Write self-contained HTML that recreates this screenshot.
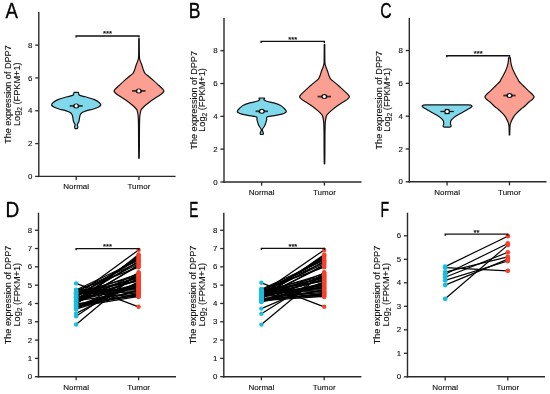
<!DOCTYPE html>
<html><head><meta charset="utf-8"><style>
html,body{margin:0;padding:0;background:#fff;}
body{width:550px;height:394px;overflow:hidden;font-family:"Liberation Sans", sans-serif;}
svg{display:block;filter:blur(0.3px);}
</style></head><body>
<svg width="550" height="394" viewBox="0 0 550 394" font-family='"Liberation Sans", sans-serif'>
<rect width="550" height="394" fill="#fff"/>
<line x1="38.8" y1="12.1" x2="38.8" y2="177.1" stroke="#2a2a2a" stroke-width="1.4"/>
<line x1="38.099999999999994" y1="176.4" x2="175.6" y2="176.4" stroke="#2a2a2a" stroke-width="1.4"/>
<line x1="35.199999999999996" y1="176.40" x2="38.8" y2="176.40" stroke="#2a2a2a" stroke-width="1.3"/>
<text x="32.50" y="179.00" font-size="7.9" text-anchor="end" fill="#111" stroke="#111" stroke-width="0.12">0</text>
<line x1="35.199999999999996" y1="143.58" x2="38.8" y2="143.58" stroke="#2a2a2a" stroke-width="1.3"/>
<text x="32.50" y="146.18" font-size="7.9" text-anchor="end" fill="#111" stroke="#111" stroke-width="0.12">2</text>
<line x1="35.199999999999996" y1="110.76" x2="38.8" y2="110.76" stroke="#2a2a2a" stroke-width="1.3"/>
<text x="32.50" y="113.36" font-size="7.9" text-anchor="end" fill="#111" stroke="#111" stroke-width="0.12">4</text>
<line x1="35.199999999999996" y1="77.94" x2="38.8" y2="77.94" stroke="#2a2a2a" stroke-width="1.3"/>
<text x="32.50" y="80.54" font-size="7.9" text-anchor="end" fill="#111" stroke="#111" stroke-width="0.12">6</text>
<line x1="35.199999999999996" y1="45.12" x2="38.8" y2="45.12" stroke="#2a2a2a" stroke-width="1.3"/>
<text x="32.50" y="47.72" font-size="7.9" text-anchor="end" fill="#111" stroke="#111" stroke-width="0.12">8</text>
<line x1="76.2" y1="176.4" x2="76.2" y2="180.0" stroke="#2a2a2a" stroke-width="1.3"/>
<text x="76.20" y="189.40" font-size="8.0" text-anchor="middle" fill="#111" stroke="#111" stroke-width="0.12">Normal</text>
<line x1="138.9" y1="176.4" x2="138.9" y2="180.0" stroke="#2a2a2a" stroke-width="1.3"/>
<text x="138.90" y="189.40" font-size="8.0" text-anchor="middle" fill="#111" stroke="#111" stroke-width="0.12">Tumor</text>
<text transform="translate(11.30,94.55) rotate(-90)" font-size="9.1" text-anchor="middle" fill="#111" stroke="#111" stroke-width="0.12">The expression of DPP7</text>
<text transform="translate(19.90,94.25) rotate(-90)" font-size="9.2" text-anchor="middle" fill="#111" stroke="#111" stroke-width="0.12">Log<tspan font-size="6.6" dy="2">2</tspan><tspan dy="-2"> (FPKM+1)</tspan></text>
<text transform="translate(5.6,18.2) scale(0.855,1)" font-size="21.7" fill="#000" stroke="#000" stroke-width="0.35">A</text>
<line x1="224.0" y1="18.0" x2="224.0" y2="182.7" stroke="#2a2a2a" stroke-width="1.4"/>
<line x1="223.3" y1="182.0" x2="361.5" y2="182.0" stroke="#2a2a2a" stroke-width="1.4"/>
<line x1="220.4" y1="182.00" x2="224.0" y2="182.00" stroke="#2a2a2a" stroke-width="1.3"/>
<text x="217.70" y="184.60" font-size="7.9" text-anchor="end" fill="#111" stroke="#111" stroke-width="0.12">0</text>
<line x1="220.4" y1="149.18" x2="224.0" y2="149.18" stroke="#2a2a2a" stroke-width="1.3"/>
<text x="217.70" y="151.78" font-size="7.9" text-anchor="end" fill="#111" stroke="#111" stroke-width="0.12">2</text>
<line x1="220.4" y1="116.36" x2="224.0" y2="116.36" stroke="#2a2a2a" stroke-width="1.3"/>
<text x="217.70" y="118.96" font-size="7.9" text-anchor="end" fill="#111" stroke="#111" stroke-width="0.12">4</text>
<line x1="220.4" y1="83.54" x2="224.0" y2="83.54" stroke="#2a2a2a" stroke-width="1.3"/>
<text x="217.70" y="86.14" font-size="7.9" text-anchor="end" fill="#111" stroke="#111" stroke-width="0.12">6</text>
<line x1="220.4" y1="50.72" x2="224.0" y2="50.72" stroke="#2a2a2a" stroke-width="1.3"/>
<text x="217.70" y="53.32" font-size="7.9" text-anchor="end" fill="#111" stroke="#111" stroke-width="0.12">8</text>
<line x1="261.6" y1="182.0" x2="261.6" y2="185.6" stroke="#2a2a2a" stroke-width="1.3"/>
<text x="261.60" y="195.00" font-size="8.0" text-anchor="middle" fill="#111" stroke="#111" stroke-width="0.12">Normal</text>
<line x1="324.4" y1="182.0" x2="324.4" y2="185.6" stroke="#2a2a2a" stroke-width="1.3"/>
<text x="324.40" y="195.00" font-size="8.0" text-anchor="middle" fill="#111" stroke="#111" stroke-width="0.12">Tumor</text>
<text transform="translate(196.50,100.30) rotate(-90)" font-size="9.1" text-anchor="middle" fill="#111" stroke="#111" stroke-width="0.12">The expression of DPP7</text>
<text transform="translate(205.10,100.00) rotate(-90)" font-size="9.2" text-anchor="middle" fill="#111" stroke="#111" stroke-width="0.12">Log<tspan font-size="6.6" dy="2">2</tspan><tspan dy="-2"> (FPKM+1)</tspan></text>
<text transform="translate(188.8,18.2) scale(0.81,1)" font-size="21.7" fill="#000" stroke="#000" stroke-width="0.35">B</text>
<line x1="409.3" y1="18.0" x2="409.3" y2="182.5" stroke="#2a2a2a" stroke-width="1.4"/>
<line x1="408.6" y1="181.8" x2="546.5" y2="181.8" stroke="#2a2a2a" stroke-width="1.4"/>
<line x1="405.7" y1="181.80" x2="409.3" y2="181.80" stroke="#2a2a2a" stroke-width="1.3"/>
<text x="403.00" y="184.40" font-size="7.9" text-anchor="end" fill="#111" stroke="#111" stroke-width="0.12">0</text>
<line x1="405.7" y1="148.98" x2="409.3" y2="148.98" stroke="#2a2a2a" stroke-width="1.3"/>
<text x="403.00" y="151.58" font-size="7.9" text-anchor="end" fill="#111" stroke="#111" stroke-width="0.12">2</text>
<line x1="405.7" y1="116.16" x2="409.3" y2="116.16" stroke="#2a2a2a" stroke-width="1.3"/>
<text x="403.00" y="118.76" font-size="7.9" text-anchor="end" fill="#111" stroke="#111" stroke-width="0.12">4</text>
<line x1="405.7" y1="83.34" x2="409.3" y2="83.34" stroke="#2a2a2a" stroke-width="1.3"/>
<text x="403.00" y="85.94" font-size="7.9" text-anchor="end" fill="#111" stroke="#111" stroke-width="0.12">6</text>
<line x1="405.7" y1="50.52" x2="409.3" y2="50.52" stroke="#2a2a2a" stroke-width="1.3"/>
<text x="403.00" y="53.12" font-size="7.9" text-anchor="end" fill="#111" stroke="#111" stroke-width="0.12">8</text>
<line x1="447.1" y1="181.8" x2="447.1" y2="185.4" stroke="#2a2a2a" stroke-width="1.3"/>
<text x="447.10" y="194.80" font-size="8.0" text-anchor="middle" fill="#111" stroke="#111" stroke-width="0.12">Normal</text>
<line x1="509.5" y1="181.8" x2="509.5" y2="185.4" stroke="#2a2a2a" stroke-width="1.3"/>
<text x="509.50" y="194.80" font-size="8.0" text-anchor="middle" fill="#111" stroke="#111" stroke-width="0.12">Tumor</text>
<text transform="translate(381.80,100.20) rotate(-90)" font-size="9.1" text-anchor="middle" fill="#111" stroke="#111" stroke-width="0.12">The expression of DPP7</text>
<text transform="translate(390.40,99.90) rotate(-90)" font-size="9.2" text-anchor="middle" fill="#111" stroke="#111" stroke-width="0.12">Log<tspan font-size="6.6" dy="2">2</tspan><tspan dy="-2"> (FPKM+1)</tspan></text>
<text transform="translate(380.3,18.2) scale(0.725,1)" font-size="21.7" fill="#000" stroke="#000" stroke-width="0.35">C</text>
<line x1="38.5" y1="212.7" x2="38.5" y2="377.4" stroke="#2a2a2a" stroke-width="1.4"/>
<line x1="37.8" y1="376.7" x2="176.0" y2="376.7" stroke="#2a2a2a" stroke-width="1.4"/>
<line x1="34.9" y1="376.70" x2="38.5" y2="376.70" stroke="#2a2a2a" stroke-width="1.3"/>
<text x="32.20" y="379.30" font-size="7.9" text-anchor="end" fill="#111" stroke="#111" stroke-width="0.12">0</text>
<line x1="34.9" y1="358.39" x2="38.5" y2="358.39" stroke="#2a2a2a" stroke-width="1.3"/>
<text x="32.20" y="360.99" font-size="7.9" text-anchor="end" fill="#111" stroke="#111" stroke-width="0.12">1</text>
<line x1="34.9" y1="340.08" x2="38.5" y2="340.08" stroke="#2a2a2a" stroke-width="1.3"/>
<text x="32.20" y="342.68" font-size="7.9" text-anchor="end" fill="#111" stroke="#111" stroke-width="0.12">2</text>
<line x1="34.9" y1="321.77" x2="38.5" y2="321.77" stroke="#2a2a2a" stroke-width="1.3"/>
<text x="32.20" y="324.37" font-size="7.9" text-anchor="end" fill="#111" stroke="#111" stroke-width="0.12">3</text>
<line x1="34.9" y1="303.46" x2="38.5" y2="303.46" stroke="#2a2a2a" stroke-width="1.3"/>
<text x="32.20" y="306.06" font-size="7.9" text-anchor="end" fill="#111" stroke="#111" stroke-width="0.12">4</text>
<line x1="34.9" y1="285.15" x2="38.5" y2="285.15" stroke="#2a2a2a" stroke-width="1.3"/>
<text x="32.20" y="287.75" font-size="7.9" text-anchor="end" fill="#111" stroke="#111" stroke-width="0.12">5</text>
<line x1="34.9" y1="266.84" x2="38.5" y2="266.84" stroke="#2a2a2a" stroke-width="1.3"/>
<text x="32.20" y="269.44" font-size="7.9" text-anchor="end" fill="#111" stroke="#111" stroke-width="0.12">6</text>
<line x1="34.9" y1="248.53" x2="38.5" y2="248.53" stroke="#2a2a2a" stroke-width="1.3"/>
<text x="32.20" y="251.13" font-size="7.9" text-anchor="end" fill="#111" stroke="#111" stroke-width="0.12">7</text>
<line x1="34.9" y1="230.22" x2="38.5" y2="230.22" stroke="#2a2a2a" stroke-width="1.3"/>
<text x="32.20" y="232.82" font-size="7.9" text-anchor="end" fill="#111" stroke="#111" stroke-width="0.12">8</text>
<line x1="76.1" y1="376.7" x2="76.1" y2="380.3" stroke="#2a2a2a" stroke-width="1.3"/>
<text x="76.10" y="389.70" font-size="8.0" text-anchor="middle" fill="#111" stroke="#111" stroke-width="0.12">Normal</text>
<line x1="138.6" y1="376.7" x2="138.6" y2="380.3" stroke="#2a2a2a" stroke-width="1.3"/>
<text x="138.60" y="389.70" font-size="8.0" text-anchor="middle" fill="#111" stroke="#111" stroke-width="0.12">Tumor</text>
<text transform="translate(11.00,295.00) rotate(-90)" font-size="9.1" text-anchor="middle" fill="#111" stroke="#111" stroke-width="0.12">The expression of DPP7</text>
<text transform="translate(19.60,294.70) rotate(-90)" font-size="9.2" text-anchor="middle" fill="#111" stroke="#111" stroke-width="0.12">Log<tspan font-size="6.6" dy="2">2</tspan><tspan dy="-2"> (FPKM+1)</tspan></text>
<text transform="translate(5.45,216.9) scale(0.88,1)" font-size="21.7" fill="#000" stroke="#000" stroke-width="0.35">D</text>
<line x1="223.8" y1="212.7" x2="223.8" y2="377.4" stroke="#2a2a2a" stroke-width="1.4"/>
<line x1="223.10000000000002" y1="376.7" x2="361.4" y2="376.7" stroke="#2a2a2a" stroke-width="1.4"/>
<line x1="220.20000000000002" y1="376.70" x2="223.8" y2="376.70" stroke="#2a2a2a" stroke-width="1.3"/>
<text x="217.50" y="379.30" font-size="7.9" text-anchor="end" fill="#111" stroke="#111" stroke-width="0.12">0</text>
<line x1="220.20000000000002" y1="358.39" x2="223.8" y2="358.39" stroke="#2a2a2a" stroke-width="1.3"/>
<text x="217.50" y="360.99" font-size="7.9" text-anchor="end" fill="#111" stroke="#111" stroke-width="0.12">1</text>
<line x1="220.20000000000002" y1="340.08" x2="223.8" y2="340.08" stroke="#2a2a2a" stroke-width="1.3"/>
<text x="217.50" y="342.68" font-size="7.9" text-anchor="end" fill="#111" stroke="#111" stroke-width="0.12">2</text>
<line x1="220.20000000000002" y1="321.77" x2="223.8" y2="321.77" stroke="#2a2a2a" stroke-width="1.3"/>
<text x="217.50" y="324.37" font-size="7.9" text-anchor="end" fill="#111" stroke="#111" stroke-width="0.12">3</text>
<line x1="220.20000000000002" y1="303.46" x2="223.8" y2="303.46" stroke="#2a2a2a" stroke-width="1.3"/>
<text x="217.50" y="306.06" font-size="7.9" text-anchor="end" fill="#111" stroke="#111" stroke-width="0.12">4</text>
<line x1="220.20000000000002" y1="285.15" x2="223.8" y2="285.15" stroke="#2a2a2a" stroke-width="1.3"/>
<text x="217.50" y="287.75" font-size="7.9" text-anchor="end" fill="#111" stroke="#111" stroke-width="0.12">5</text>
<line x1="220.20000000000002" y1="266.84" x2="223.8" y2="266.84" stroke="#2a2a2a" stroke-width="1.3"/>
<text x="217.50" y="269.44" font-size="7.9" text-anchor="end" fill="#111" stroke="#111" stroke-width="0.12">6</text>
<line x1="220.20000000000002" y1="248.53" x2="223.8" y2="248.53" stroke="#2a2a2a" stroke-width="1.3"/>
<text x="217.50" y="251.13" font-size="7.9" text-anchor="end" fill="#111" stroke="#111" stroke-width="0.12">7</text>
<line x1="220.20000000000002" y1="230.22" x2="223.8" y2="230.22" stroke="#2a2a2a" stroke-width="1.3"/>
<text x="217.50" y="232.82" font-size="7.9" text-anchor="end" fill="#111" stroke="#111" stroke-width="0.12">8</text>
<line x1="261.4" y1="376.7" x2="261.4" y2="380.3" stroke="#2a2a2a" stroke-width="1.3"/>
<text x="261.40" y="389.70" font-size="8.0" text-anchor="middle" fill="#111" stroke="#111" stroke-width="0.12">Normal</text>
<line x1="324.2" y1="376.7" x2="324.2" y2="380.3" stroke="#2a2a2a" stroke-width="1.3"/>
<text x="324.20" y="389.70" font-size="8.0" text-anchor="middle" fill="#111" stroke="#111" stroke-width="0.12">Tumor</text>
<text transform="translate(196.30,295.00) rotate(-90)" font-size="9.1" text-anchor="middle" fill="#111" stroke="#111" stroke-width="0.12">The expression of DPP7</text>
<text transform="translate(204.90,294.70) rotate(-90)" font-size="9.2" text-anchor="middle" fill="#111" stroke="#111" stroke-width="0.12">Log<tspan font-size="6.6" dy="2">2</tspan><tspan dy="-2"> (FPKM+1)</tspan></text>
<text transform="translate(189.2,216.9) scale(0.63,1)" font-size="21.7" fill="#000" stroke="#000" stroke-width="0.35">E</text>
<line x1="407.5" y1="212.7" x2="407.5" y2="377.5" stroke="#2a2a2a" stroke-width="1.4"/>
<line x1="406.8" y1="376.8" x2="545.0" y2="376.8" stroke="#2a2a2a" stroke-width="1.4"/>
<line x1="403.9" y1="376.80" x2="407.5" y2="376.80" stroke="#2a2a2a" stroke-width="1.3"/>
<text x="401.20" y="379.40" font-size="7.9" text-anchor="end" fill="#111" stroke="#111" stroke-width="0.12">0</text>
<line x1="403.9" y1="353.30" x2="407.5" y2="353.30" stroke="#2a2a2a" stroke-width="1.3"/>
<text x="401.20" y="355.90" font-size="7.9" text-anchor="end" fill="#111" stroke="#111" stroke-width="0.12">1</text>
<line x1="403.9" y1="329.80" x2="407.5" y2="329.80" stroke="#2a2a2a" stroke-width="1.3"/>
<text x="401.20" y="332.40" font-size="7.9" text-anchor="end" fill="#111" stroke="#111" stroke-width="0.12">2</text>
<line x1="403.9" y1="306.30" x2="407.5" y2="306.30" stroke="#2a2a2a" stroke-width="1.3"/>
<text x="401.20" y="308.90" font-size="7.9" text-anchor="end" fill="#111" stroke="#111" stroke-width="0.12">3</text>
<line x1="403.9" y1="282.80" x2="407.5" y2="282.80" stroke="#2a2a2a" stroke-width="1.3"/>
<text x="401.20" y="285.40" font-size="7.9" text-anchor="end" fill="#111" stroke="#111" stroke-width="0.12">4</text>
<line x1="403.9" y1="259.30" x2="407.5" y2="259.30" stroke="#2a2a2a" stroke-width="1.3"/>
<text x="401.20" y="261.90" font-size="7.9" text-anchor="end" fill="#111" stroke="#111" stroke-width="0.12">5</text>
<line x1="403.9" y1="235.80" x2="407.5" y2="235.80" stroke="#2a2a2a" stroke-width="1.3"/>
<text x="401.20" y="238.40" font-size="7.9" text-anchor="end" fill="#111" stroke="#111" stroke-width="0.12">6</text>
<line x1="445.2" y1="376.8" x2="445.2" y2="380.40000000000003" stroke="#2a2a2a" stroke-width="1.3"/>
<text x="445.20" y="389.80" font-size="8.0" text-anchor="middle" fill="#111" stroke="#111" stroke-width="0.12">Normal</text>
<line x1="507.8" y1="376.8" x2="507.8" y2="380.40000000000003" stroke="#2a2a2a" stroke-width="1.3"/>
<text x="507.80" y="389.80" font-size="8.0" text-anchor="middle" fill="#111" stroke="#111" stroke-width="0.12">Tumor</text>
<text transform="translate(380.00,295.05) rotate(-90)" font-size="9.1" text-anchor="middle" fill="#111" stroke="#111" stroke-width="0.12">The expression of DPP7</text>
<text transform="translate(388.60,294.75) rotate(-90)" font-size="9.2" text-anchor="middle" fill="#111" stroke="#111" stroke-width="0.12">Log<tspan font-size="6.6" dy="2">2</tspan><tspan dy="-2"> (FPKM+1)</tspan></text>
<text transform="translate(380.5,216.9) scale(0.65,1)" font-size="21.7" fill="#000" stroke="#000" stroke-width="0.35">F</text>
<path d="M78.40,92.40 C78.45,92.60 78.53,93.15 78.70,93.60 C78.87,94.05 78.32,94.57 79.40,95.10 C80.48,95.63 82.70,96.05 85.20,96.80 C87.70,97.55 92.07,98.65 94.40,99.60 C96.73,100.55 98.13,101.60 99.20,102.50 C100.27,103.40 100.97,104.22 100.80,105.00 C100.63,105.78 99.43,106.53 98.20,107.20 C96.97,107.87 95.40,108.38 93.40,109.00 C91.40,109.62 88.07,110.30 86.20,110.90 C84.33,111.50 83.18,111.95 82.20,112.60 C81.22,113.25 80.75,113.90 80.30,114.80 C79.85,115.70 79.73,116.88 79.50,118.00 C79.27,119.12 79.27,120.38 78.90,121.50 C78.53,122.62 77.48,123.85 77.30,124.70 C77.12,125.55 77.77,126.02 77.80,126.60 C77.83,127.18 77.67,127.85 77.50,128.20 C77.33,128.55 76.92,128.62 76.80,128.70 L75.60,128.70 C75.48,128.62 75.07,128.55 74.90,128.20 C74.73,127.85 74.57,127.18 74.60,126.60 C74.63,126.02 75.28,125.55 75.10,124.70 C74.92,123.85 73.87,122.62 73.50,121.50 C73.13,120.38 73.13,119.12 72.90,118.00 C72.67,116.88 72.55,115.70 72.10,114.80 C71.65,113.90 71.18,113.25 70.20,112.60 C69.22,111.95 68.07,111.50 66.20,110.90 C64.33,110.30 61.00,109.62 59.00,109.00 C57.00,108.38 55.43,107.87 54.20,107.20 C52.97,106.53 51.77,105.78 51.60,105.00 C51.43,104.22 52.13,103.40 53.20,102.50 C54.27,101.60 55.67,100.55 58.00,99.60 C60.33,98.65 64.70,97.55 67.20,96.80 C69.70,96.05 71.92,95.63 73.00,95.10 C74.08,94.57 73.53,94.05 73.70,93.60 C73.87,93.15 73.95,92.60 74.00,92.40 Z" fill="#80d9ea" stroke="#111" stroke-width="1.2" stroke-linejoin="round"/>
<line x1="69.70" y1="105.90" x2="82.70" y2="105.90" stroke="#000" stroke-opacity="0.72" stroke-width="1.8"/>
<ellipse cx="76.20" cy="105.90" rx="3.1" ry="2.5" fill="#111"/>
<circle cx="76.20" cy="105.90" r="1.55" fill="#fff"/>
<path d="M139.25,38.70 C139.26,40.58 139.28,47.03 139.30,50.00 C139.33,52.97 139.33,54.98 139.40,56.50 C139.47,58.02 139.48,58.17 139.70,59.10 C139.92,60.03 140.33,61.08 140.70,62.10 C141.07,63.12 141.43,63.85 141.90,65.20 C142.37,66.55 142.98,68.85 143.50,70.20 C144.02,71.55 144.37,72.45 145.00,73.30 C145.63,74.15 145.90,74.12 147.30,75.30 C148.70,76.48 151.47,78.70 153.40,80.40 C155.33,82.10 157.33,84.03 158.90,85.50 C160.47,86.97 161.97,88.27 162.80,89.20 C163.63,90.13 163.93,90.47 163.90,91.10 C163.87,91.73 163.30,92.32 162.60,93.00 C161.90,93.68 161.48,94.00 159.70,95.20 C157.92,96.40 154.27,98.52 151.90,100.20 C149.53,101.88 147.12,103.92 145.50,105.30 C143.88,106.68 142.97,107.65 142.20,108.50 C141.43,109.35 141.28,109.23 140.90,110.40 C140.52,111.57 140.12,113.82 139.90,115.50 C139.68,117.18 139.68,118.08 139.60,120.50 C139.52,122.92 139.48,125.92 139.45,130.00 C139.42,134.08 139.43,140.30 139.40,145.00 C139.37,149.70 139.28,156.00 139.25,158.20 L138.75,158.20 C138.72,156.00 138.63,149.70 138.60,145.00 C138.57,140.30 138.58,134.08 138.55,130.00 C138.52,125.92 138.48,122.92 138.40,120.50 C138.32,118.08 138.32,117.18 138.10,115.50 C137.88,113.82 137.48,111.57 137.10,110.40 C136.72,109.23 136.57,109.35 135.80,108.50 C135.03,107.65 134.12,106.68 132.50,105.30 C130.88,103.92 128.47,101.88 126.10,100.20 C123.73,98.52 120.08,96.40 118.30,95.20 C116.52,94.00 116.10,93.68 115.40,93.00 C114.70,92.32 114.13,91.73 114.10,91.10 C114.07,90.47 114.37,90.13 115.20,89.20 C116.03,88.27 117.53,86.97 119.10,85.50 C120.67,84.03 122.67,82.10 124.60,80.40 C126.53,78.70 129.30,76.48 130.70,75.30 C132.10,74.12 132.37,74.15 133.00,73.30 C133.63,72.45 133.98,71.55 134.50,70.20 C135.02,68.85 135.63,66.55 136.10,65.20 C136.57,63.85 136.93,63.12 137.30,62.10 C137.67,61.08 138.08,60.03 138.30,59.10 C138.52,58.17 138.53,58.02 138.60,56.50 C138.67,54.98 138.67,52.97 138.70,50.00 C138.72,47.03 138.74,40.58 138.75,38.70 Z" fill="#fa9f91" stroke="#111" stroke-width="1.2" stroke-linejoin="round"/>
<line x1="132.05" y1="90.90" x2="145.55" y2="90.90" stroke="#000" stroke-opacity="0.72" stroke-width="1.8"/>
<ellipse cx="138.80" cy="90.90" rx="3.1" ry="2.5" fill="#111"/>
<circle cx="138.80" cy="90.90" r="1.55" fill="#fff"/>
<path d="M76.1,37.6 L76.1,36.0 L139.0,36.0 L139.0,37.6" fill="none" stroke="#111" stroke-width="1.35"/>
<text x="107.55" y="36.40" font-size="7.6" text-anchor="middle" fill="#111" stroke="#111" stroke-width="0.25">***</text>
<path d="M264.10,98.00 C264.18,98.07 264.63,98.13 264.60,98.40 C264.57,98.67 263.58,99.12 263.90,99.60 C264.22,100.08 264.85,100.75 266.50,101.30 C268.15,101.85 271.52,102.25 273.80,102.90 C276.08,103.55 278.47,104.27 280.20,105.20 C281.93,106.13 283.18,107.48 284.20,108.50 C285.22,109.52 286.15,110.58 286.30,111.30 C286.45,112.02 285.83,112.33 285.10,112.80 C284.37,113.27 283.45,113.67 281.90,114.10 C280.35,114.53 277.82,115.03 275.80,115.40 C273.78,115.77 271.30,116.00 269.80,116.30 C268.30,116.60 267.32,116.72 266.80,117.20 C266.28,117.68 266.80,118.50 266.70,119.20 C266.60,119.90 266.43,120.57 266.20,121.40 C265.97,122.23 265.60,123.38 265.30,124.20 C265.00,125.02 264.82,125.58 264.40,126.30 C263.98,127.02 263.15,127.90 262.80,128.50 C262.45,129.10 262.27,129.32 262.30,129.90 C262.33,130.48 262.82,131.35 263.00,132.00 C263.18,132.65 263.47,133.38 263.40,133.80 C263.33,134.22 262.73,134.38 262.60,134.50 L261.00,134.50 C260.87,134.38 260.27,134.22 260.20,133.80 C260.13,133.38 260.42,132.65 260.60,132.00 C260.78,131.35 261.27,130.48 261.30,129.90 C261.33,129.32 261.15,129.10 260.80,128.50 C260.45,127.90 259.62,127.02 259.20,126.30 C258.78,125.58 258.60,125.02 258.30,124.20 C258.00,123.38 257.63,122.23 257.40,121.40 C257.17,120.57 257.00,119.90 256.90,119.20 C256.80,118.50 257.32,117.68 256.80,117.20 C256.28,116.72 255.30,116.60 253.80,116.30 C252.30,116.00 249.82,115.77 247.80,115.40 C245.78,115.03 243.25,114.53 241.70,114.10 C240.15,113.67 239.23,113.27 238.50,112.80 C237.77,112.33 237.15,112.02 237.30,111.30 C237.45,110.58 238.38,109.52 239.40,108.50 C240.42,107.48 241.67,106.13 243.40,105.20 C245.13,104.27 247.52,103.55 249.80,102.90 C252.08,102.25 255.45,101.85 257.10,101.30 C258.75,100.75 259.38,100.08 259.70,99.60 C260.02,99.12 259.03,98.67 259.00,98.40 C258.97,98.13 259.42,98.07 259.50,98.00 Z" fill="#80d9ea" stroke="#111" stroke-width="1.2" stroke-linejoin="round"/>
<line x1="255.55" y1="111.30" x2="268.05" y2="111.30" stroke="#000" stroke-opacity="0.72" stroke-width="1.8"/>
<ellipse cx="261.80" cy="111.30" rx="3.1" ry="2.5" fill="#111"/>
<circle cx="261.80" cy="111.30" r="1.55" fill="#fff"/>
<path d="M324.75,44.30 C324.76,46.18 324.78,52.63 324.80,55.60 C324.82,58.57 324.83,60.58 324.90,62.10 C324.97,63.62 324.98,63.77 325.20,64.70 C325.42,65.63 325.83,66.68 326.20,67.70 C326.57,68.72 326.93,69.45 327.40,70.80 C327.87,72.15 328.48,74.45 329.00,75.80 C329.52,77.15 329.87,78.05 330.50,78.90 C331.13,79.75 331.40,79.72 332.80,80.90 C334.20,82.08 336.97,84.30 338.90,86.00 C340.83,87.70 342.83,89.63 344.40,91.10 C345.97,92.57 347.47,93.87 348.30,94.80 C349.13,95.73 349.43,96.07 349.40,96.70 C349.37,97.33 348.80,97.92 348.10,98.60 C347.40,99.28 346.98,99.60 345.20,100.80 C343.42,102.00 339.77,104.12 337.40,105.80 C335.03,107.48 332.62,109.52 331.00,110.90 C329.38,112.28 328.47,113.25 327.70,114.10 C326.93,114.95 326.78,114.83 326.40,116.00 C326.02,117.17 325.62,119.42 325.40,121.10 C325.18,122.78 325.18,123.68 325.10,126.10 C325.03,128.52 324.98,131.52 324.95,135.60 C324.92,139.68 324.93,145.90 324.90,150.60 C324.87,155.30 324.77,161.60 324.75,163.80 L324.25,163.80 C324.23,161.60 324.13,155.30 324.10,150.60 C324.07,145.90 324.08,139.68 324.05,135.60 C324.02,131.52 323.97,128.52 323.90,126.10 C323.82,123.68 323.82,122.78 323.60,121.10 C323.38,119.42 322.98,117.17 322.60,116.00 C322.22,114.83 322.07,114.95 321.30,114.10 C320.53,113.25 319.62,112.28 318.00,110.90 C316.38,109.52 313.97,107.48 311.60,105.80 C309.23,104.12 305.58,102.00 303.80,100.80 C302.02,99.60 301.60,99.28 300.90,98.60 C300.20,97.92 299.63,97.33 299.60,96.70 C299.57,96.07 299.87,95.73 300.70,94.80 C301.53,93.87 303.03,92.57 304.60,91.10 C306.17,89.63 308.17,87.70 310.10,86.00 C312.03,84.30 314.80,82.08 316.20,80.90 C317.60,79.72 317.87,79.75 318.50,78.90 C319.13,78.05 319.48,77.15 320.00,75.80 C320.52,74.45 321.13,72.15 321.60,70.80 C322.07,69.45 322.43,68.72 322.80,67.70 C323.17,66.68 323.58,65.63 323.80,64.70 C324.02,63.77 324.03,63.62 324.10,62.10 C324.17,60.58 324.18,58.57 324.20,55.60 C324.22,52.63 324.24,46.18 324.25,44.30 Z" fill="#fa9f91" stroke="#111" stroke-width="1.2" stroke-linejoin="round"/>
<line x1="317.55" y1="96.60" x2="331.05" y2="96.60" stroke="#000" stroke-opacity="0.72" stroke-width="1.8"/>
<ellipse cx="324.30" cy="96.60" rx="3.1" ry="2.5" fill="#111"/>
<circle cx="324.30" cy="96.60" r="1.55" fill="#fff"/>
<path d="M261.1,43.0 L261.1,41.4 L324.3,41.4 L324.3,43.0" fill="none" stroke="#111" stroke-width="1.35"/>
<text x="292.70" y="41.80" font-size="7.6" text-anchor="middle" fill="#111" stroke="#111" stroke-width="0.25">***</text>
<path d="M468.10,104.90 C468.53,104.94 470.07,104.98 470.70,105.15 C471.33,105.32 471.77,105.59 471.90,105.90 C472.03,106.21 472.43,106.28 471.50,107.00 C470.57,107.72 468.68,108.82 466.30,110.20 C463.92,111.58 459.35,114.00 457.20,115.30 C455.05,116.60 454.42,117.15 453.40,118.00 C452.38,118.85 451.60,119.50 451.10,120.40 C450.60,121.30 450.42,122.57 450.40,123.40 C450.38,124.23 450.90,124.87 451.00,125.40 C451.10,125.93 451.18,126.32 451.00,126.60 C450.82,126.88 450.08,127.02 449.90,127.10 L444.30,127.10 C444.12,127.02 443.38,126.88 443.20,126.60 C443.02,126.32 443.10,125.93 443.20,125.40 C443.30,124.87 443.82,124.23 443.80,123.40 C443.78,122.57 443.60,121.30 443.10,120.40 C442.60,119.50 441.82,118.85 440.80,118.00 C439.78,117.15 439.15,116.60 437.00,115.30 C434.85,114.00 430.28,111.58 427.90,110.20 C425.52,108.82 423.63,107.72 422.70,107.00 C421.77,106.28 422.17,106.21 422.30,105.90 C422.43,105.59 422.87,105.32 423.50,105.15 C424.13,104.98 425.67,104.94 426.10,104.90 Z" fill="#80d9ea" stroke="#111" stroke-width="1.2" stroke-linejoin="round"/>
<line x1="440.40" y1="111.50" x2="453.80" y2="111.50" stroke="#111" stroke-width="1.3"/>
<line x1="444.80" y1="109.60" x2="449.40" y2="109.60" stroke="#111" stroke-width="1.4"/>
<line x1="444.50" y1="113.50" x2="449.70" y2="113.50" stroke="#111" stroke-width="1.4"/>
<ellipse cx="447.10" cy="111.50" rx="2.9" ry="1.9" fill="#111"/>
<circle cx="447.10" cy="111.50" r="1.6" fill="#fff"/>
<path d="M510.00,57.90 C510.07,57.97 510.25,57.47 510.40,58.30 C510.55,59.13 510.57,61.22 510.90,62.90 C511.23,64.58 511.73,66.58 512.40,68.40 C513.07,70.22 513.98,71.98 514.90,73.80 C515.82,75.62 517.20,78.02 517.90,79.30 C518.60,80.58 518.23,80.47 519.10,81.50 C519.97,82.53 521.53,83.93 523.10,85.50 C524.67,87.07 526.93,89.40 528.50,90.90 C530.07,92.40 531.57,93.50 532.50,94.50 C533.43,95.50 534.05,96.15 534.10,96.90 C534.15,97.65 533.60,98.18 532.80,99.00 C532.00,99.82 530.87,100.42 529.30,101.80 C527.73,103.18 524.77,106.10 523.40,107.30 C522.03,108.50 522.57,107.65 521.10,109.00 C519.63,110.35 516.27,113.28 514.60,115.40 C512.93,117.52 511.85,120.02 511.10,121.70 C510.35,123.38 510.31,124.12 510.10,125.50 C509.89,126.88 509.91,128.42 509.85,130.00 C509.79,131.58 509.77,134.17 509.75,135.00 L509.25,135.00 C509.23,134.17 509.21,131.58 509.15,130.00 C509.09,128.42 509.11,126.88 508.90,125.50 C508.69,124.12 508.65,123.38 507.90,121.70 C507.15,120.02 506.07,117.52 504.40,115.40 C502.73,113.28 499.37,110.35 497.90,109.00 C496.43,107.65 496.97,108.50 495.60,107.30 C494.23,106.10 491.27,103.18 489.70,101.80 C488.13,100.42 487.00,99.82 486.20,99.00 C485.40,98.18 484.85,97.65 484.90,96.90 C484.95,96.15 485.57,95.50 486.50,94.50 C487.43,93.50 488.93,92.40 490.50,90.90 C492.07,89.40 494.33,87.07 495.90,85.50 C497.47,83.93 499.03,82.53 499.90,81.50 C500.77,80.47 500.40,80.58 501.10,79.30 C501.80,78.02 503.18,75.62 504.10,73.80 C505.02,71.98 505.93,70.22 506.60,68.40 C507.27,66.58 507.77,64.58 508.10,62.90 C508.43,61.22 508.45,59.13 508.60,58.30 C508.75,57.47 508.93,57.97 509.00,57.90 Z" fill="#fa9f91" stroke="#111" stroke-width="1.2" stroke-linejoin="round"/>
<line x1="503.35" y1="95.50" x2="515.65" y2="95.50" stroke="#000" stroke-opacity="0.72" stroke-width="1.8"/>
<ellipse cx="509.50" cy="95.50" rx="3.1" ry="2.5" fill="#111"/>
<circle cx="509.50" cy="95.50" r="1.55" fill="#fff"/>
<path d="M446.8,57.300000000000004 L446.8,55.7 L509.6,55.7 L509.6,57.300000000000004" fill="none" stroke="#111" stroke-width="1.35"/>
<text x="478.20" y="56.10" font-size="7.6" text-anchor="middle" fill="#111" stroke="#111" stroke-width="0.25">***</text>
<line x1="76.10" y1="302.96" x2="138.60" y2="273.03" stroke="#000" stroke-width="1.25"/>
<line x1="76.10" y1="304.30" x2="138.60" y2="254.40" stroke="#000" stroke-width="1.25"/>
<line x1="76.10" y1="302.07" x2="138.60" y2="255.56" stroke="#000" stroke-width="1.25"/>
<line x1="76.10" y1="297.17" x2="138.60" y2="256.73" stroke="#000" stroke-width="1.25"/>
<line x1="76.10" y1="296.73" x2="138.60" y2="257.89" stroke="#000" stroke-width="1.25"/>
<line x1="76.10" y1="296.28" x2="138.60" y2="259.05" stroke="#000" stroke-width="1.25"/>
<line x1="76.10" y1="290.05" x2="138.60" y2="260.22" stroke="#000" stroke-width="1.25"/>
<line x1="76.10" y1="299.40" x2="138.60" y2="261.38" stroke="#000" stroke-width="1.25"/>
<line x1="76.10" y1="324.50" x2="138.60" y2="272.30" stroke="#000" stroke-width="1.25"/>
<line x1="76.10" y1="294.95" x2="138.60" y2="263.71" stroke="#000" stroke-width="1.25"/>
<line x1="76.10" y1="303.41" x2="138.60" y2="264.87" stroke="#000" stroke-width="1.25"/>
<line x1="76.10" y1="301.18" x2="138.60" y2="266.04" stroke="#000" stroke-width="1.25"/>
<line x1="76.10" y1="290.94" x2="138.60" y2="267.20" stroke="#000" stroke-width="1.25"/>
<line x1="76.10" y1="291.38" x2="138.60" y2="262.55" stroke="#000" stroke-width="1.25"/>
<line x1="76.10" y1="295.84" x2="138.60" y2="249.90" stroke="#000" stroke-width="1.25"/>
<line x1="76.10" y1="295.39" x2="138.60" y2="273.75" stroke="#000" stroke-width="1.25"/>
<line x1="76.10" y1="283.40" x2="138.60" y2="306.80" stroke="#000" stroke-width="1.25"/>
<line x1="76.10" y1="308.75" x2="138.60" y2="275.21" stroke="#000" stroke-width="1.25"/>
<line x1="76.10" y1="292.72" x2="138.60" y2="275.93" stroke="#000" stroke-width="1.25"/>
<line x1="76.10" y1="298.51" x2="138.60" y2="276.66" stroke="#000" stroke-width="1.25"/>
<line x1="76.10" y1="297.62" x2="138.60" y2="277.39" stroke="#000" stroke-width="1.25"/>
<line x1="76.10" y1="294.05" x2="138.60" y2="278.11" stroke="#000" stroke-width="1.25"/>
<line x1="76.10" y1="302.52" x2="138.60" y2="278.84" stroke="#000" stroke-width="1.25"/>
<line x1="76.10" y1="301.63" x2="138.60" y2="279.56" stroke="#000" stroke-width="1.25"/>
<line x1="76.10" y1="298.06" x2="138.60" y2="280.29" stroke="#000" stroke-width="1.25"/>
<line x1="76.10" y1="292.27" x2="138.60" y2="281.02" stroke="#000" stroke-width="1.25"/>
<line x1="76.10" y1="313.40" x2="138.60" y2="281.74" stroke="#000" stroke-width="1.25"/>
<line x1="76.10" y1="307.86" x2="138.60" y2="282.47" stroke="#000" stroke-width="1.25"/>
<line x1="76.10" y1="308.31" x2="138.60" y2="283.20" stroke="#000" stroke-width="1.25"/>
<line x1="76.10" y1="299.85" x2="138.60" y2="283.92" stroke="#000" stroke-width="1.25"/>
<line x1="76.10" y1="305.64" x2="138.60" y2="284.65" stroke="#000" stroke-width="1.25"/>
<line x1="76.10" y1="298.95" x2="138.60" y2="285.38" stroke="#000" stroke-width="1.25"/>
<line x1="76.10" y1="307.42" x2="138.60" y2="286.10" stroke="#000" stroke-width="1.25"/>
<line x1="76.10" y1="300.29" x2="138.60" y2="286.83" stroke="#000" stroke-width="1.25"/>
<line x1="76.10" y1="294.50" x2="138.60" y2="287.56" stroke="#000" stroke-width="1.25"/>
<line x1="76.10" y1="293.16" x2="138.60" y2="288.28" stroke="#000" stroke-width="1.25"/>
<line x1="76.10" y1="290.49" x2="138.60" y2="289.01" stroke="#000" stroke-width="1.25"/>
<line x1="76.10" y1="309.20" x2="138.60" y2="289.74" stroke="#000" stroke-width="1.25"/>
<line x1="76.10" y1="305.19" x2="138.60" y2="290.46" stroke="#000" stroke-width="1.25"/>
<line x1="76.10" y1="289.60" x2="138.60" y2="291.19" stroke="#000" stroke-width="1.25"/>
<line x1="76.10" y1="293.61" x2="138.60" y2="291.91" stroke="#000" stroke-width="1.25"/>
<line x1="76.10" y1="300.74" x2="138.60" y2="292.64" stroke="#000" stroke-width="1.25"/>
<line x1="76.10" y1="306.08" x2="138.60" y2="293.37" stroke="#000" stroke-width="1.25"/>
<line x1="76.10" y1="306.53" x2="138.60" y2="294.09" stroke="#000" stroke-width="1.25"/>
<line x1="76.10" y1="304.75" x2="138.60" y2="294.82" stroke="#000" stroke-width="1.25"/>
<line x1="76.10" y1="303.85" x2="138.60" y2="295.55" stroke="#000" stroke-width="1.25"/>
<line x1="76.10" y1="306.97" x2="138.60" y2="296.27" stroke="#000" stroke-width="1.25"/>
<line x1="76.10" y1="291.83" x2="138.60" y2="297.00" stroke="#000" stroke-width="1.25"/>
<line x1="76.10" y1="316.20" x2="138.60" y2="274.48" stroke="#000" stroke-width="1.25"/>
<circle cx="76.10" cy="302.96" r="2.2" fill="#1abcdb"/>
<circle cx="76.10" cy="304.30" r="2.2" fill="#1abcdb"/>
<circle cx="76.10" cy="302.07" r="2.2" fill="#1abcdb"/>
<circle cx="76.10" cy="297.17" r="2.2" fill="#1abcdb"/>
<circle cx="76.10" cy="296.73" r="2.2" fill="#1abcdb"/>
<circle cx="76.10" cy="296.28" r="2.2" fill="#1abcdb"/>
<circle cx="76.10" cy="290.05" r="2.2" fill="#1abcdb"/>
<circle cx="76.10" cy="299.40" r="2.2" fill="#1abcdb"/>
<circle cx="76.10" cy="324.50" r="2.2" fill="#1abcdb"/>
<circle cx="76.10" cy="294.95" r="2.2" fill="#1abcdb"/>
<circle cx="76.10" cy="303.41" r="2.2" fill="#1abcdb"/>
<circle cx="76.10" cy="301.18" r="2.2" fill="#1abcdb"/>
<circle cx="76.10" cy="290.94" r="2.2" fill="#1abcdb"/>
<circle cx="76.10" cy="291.38" r="2.2" fill="#1abcdb"/>
<circle cx="76.10" cy="295.84" r="2.2" fill="#1abcdb"/>
<circle cx="76.10" cy="295.39" r="2.2" fill="#1abcdb"/>
<circle cx="76.10" cy="283.40" r="2.2" fill="#1abcdb"/>
<circle cx="76.10" cy="308.75" r="2.2" fill="#1abcdb"/>
<circle cx="76.10" cy="292.72" r="2.2" fill="#1abcdb"/>
<circle cx="76.10" cy="298.51" r="2.2" fill="#1abcdb"/>
<circle cx="76.10" cy="297.62" r="2.2" fill="#1abcdb"/>
<circle cx="76.10" cy="294.05" r="2.2" fill="#1abcdb"/>
<circle cx="76.10" cy="302.52" r="2.2" fill="#1abcdb"/>
<circle cx="76.10" cy="301.63" r="2.2" fill="#1abcdb"/>
<circle cx="76.10" cy="298.06" r="2.2" fill="#1abcdb"/>
<circle cx="76.10" cy="292.27" r="2.2" fill="#1abcdb"/>
<circle cx="76.10" cy="313.40" r="2.2" fill="#1abcdb"/>
<circle cx="76.10" cy="307.86" r="2.2" fill="#1abcdb"/>
<circle cx="76.10" cy="308.31" r="2.2" fill="#1abcdb"/>
<circle cx="76.10" cy="299.85" r="2.2" fill="#1abcdb"/>
<circle cx="76.10" cy="305.64" r="2.2" fill="#1abcdb"/>
<circle cx="76.10" cy="298.95" r="2.2" fill="#1abcdb"/>
<circle cx="76.10" cy="307.42" r="2.2" fill="#1abcdb"/>
<circle cx="76.10" cy="300.29" r="2.2" fill="#1abcdb"/>
<circle cx="76.10" cy="294.50" r="2.2" fill="#1abcdb"/>
<circle cx="76.10" cy="293.16" r="2.2" fill="#1abcdb"/>
<circle cx="76.10" cy="290.49" r="2.2" fill="#1abcdb"/>
<circle cx="76.10" cy="309.20" r="2.2" fill="#1abcdb"/>
<circle cx="76.10" cy="305.19" r="2.2" fill="#1abcdb"/>
<circle cx="76.10" cy="289.60" r="2.2" fill="#1abcdb"/>
<circle cx="76.10" cy="293.61" r="2.2" fill="#1abcdb"/>
<circle cx="76.10" cy="300.74" r="2.2" fill="#1abcdb"/>
<circle cx="76.10" cy="306.08" r="2.2" fill="#1abcdb"/>
<circle cx="76.10" cy="306.53" r="2.2" fill="#1abcdb"/>
<circle cx="76.10" cy="304.75" r="2.2" fill="#1abcdb"/>
<circle cx="76.10" cy="303.85" r="2.2" fill="#1abcdb"/>
<circle cx="76.10" cy="306.97" r="2.2" fill="#1abcdb"/>
<circle cx="76.10" cy="291.83" r="2.2" fill="#1abcdb"/>
<circle cx="76.10" cy="316.20" r="2.2" fill="#1abcdb"/>
<circle cx="138.60" cy="273.03" r="2.2" fill="#f5422c"/>
<circle cx="138.60" cy="254.40" r="2.2" fill="#f5422c"/>
<circle cx="138.60" cy="255.56" r="2.2" fill="#f5422c"/>
<circle cx="138.60" cy="256.73" r="2.2" fill="#f5422c"/>
<circle cx="138.60" cy="257.89" r="2.2" fill="#f5422c"/>
<circle cx="138.60" cy="259.05" r="2.2" fill="#f5422c"/>
<circle cx="138.60" cy="260.22" r="2.2" fill="#f5422c"/>
<circle cx="138.60" cy="261.38" r="2.2" fill="#f5422c"/>
<circle cx="138.60" cy="272.30" r="2.2" fill="#f5422c"/>
<circle cx="138.60" cy="263.71" r="2.2" fill="#f5422c"/>
<circle cx="138.60" cy="264.87" r="2.2" fill="#f5422c"/>
<circle cx="138.60" cy="266.04" r="2.2" fill="#f5422c"/>
<circle cx="138.60" cy="267.20" r="2.2" fill="#f5422c"/>
<circle cx="138.60" cy="262.55" r="2.2" fill="#f5422c"/>
<circle cx="138.60" cy="249.90" r="2.2" fill="#f5422c"/>
<circle cx="138.60" cy="273.75" r="2.2" fill="#f5422c"/>
<circle cx="138.60" cy="306.80" r="2.2" fill="#f5422c"/>
<circle cx="138.60" cy="275.21" r="2.2" fill="#f5422c"/>
<circle cx="138.60" cy="275.93" r="2.2" fill="#f5422c"/>
<circle cx="138.60" cy="276.66" r="2.2" fill="#f5422c"/>
<circle cx="138.60" cy="277.39" r="2.2" fill="#f5422c"/>
<circle cx="138.60" cy="278.11" r="2.2" fill="#f5422c"/>
<circle cx="138.60" cy="278.84" r="2.2" fill="#f5422c"/>
<circle cx="138.60" cy="279.56" r="2.2" fill="#f5422c"/>
<circle cx="138.60" cy="280.29" r="2.2" fill="#f5422c"/>
<circle cx="138.60" cy="281.02" r="2.2" fill="#f5422c"/>
<circle cx="138.60" cy="281.74" r="2.2" fill="#f5422c"/>
<circle cx="138.60" cy="282.47" r="2.2" fill="#f5422c"/>
<circle cx="138.60" cy="283.20" r="2.2" fill="#f5422c"/>
<circle cx="138.60" cy="283.92" r="2.2" fill="#f5422c"/>
<circle cx="138.60" cy="284.65" r="2.2" fill="#f5422c"/>
<circle cx="138.60" cy="285.38" r="2.2" fill="#f5422c"/>
<circle cx="138.60" cy="286.10" r="2.2" fill="#f5422c"/>
<circle cx="138.60" cy="286.83" r="2.2" fill="#f5422c"/>
<circle cx="138.60" cy="287.56" r="2.2" fill="#f5422c"/>
<circle cx="138.60" cy="288.28" r="2.2" fill="#f5422c"/>
<circle cx="138.60" cy="289.01" r="2.2" fill="#f5422c"/>
<circle cx="138.60" cy="289.74" r="2.2" fill="#f5422c"/>
<circle cx="138.60" cy="290.46" r="2.2" fill="#f5422c"/>
<circle cx="138.60" cy="291.19" r="2.2" fill="#f5422c"/>
<circle cx="138.60" cy="291.91" r="2.2" fill="#f5422c"/>
<circle cx="138.60" cy="292.64" r="2.2" fill="#f5422c"/>
<circle cx="138.60" cy="293.37" r="2.2" fill="#f5422c"/>
<circle cx="138.60" cy="294.09" r="2.2" fill="#f5422c"/>
<circle cx="138.60" cy="294.82" r="2.2" fill="#f5422c"/>
<circle cx="138.60" cy="295.55" r="2.2" fill="#f5422c"/>
<circle cx="138.60" cy="296.27" r="2.2" fill="#f5422c"/>
<circle cx="138.60" cy="297.00" r="2.2" fill="#f5422c"/>
<circle cx="138.60" cy="274.48" r="2.2" fill="#f5422c"/>
<path d="M76.1,250.2 L76.1,248.6 L138.9,248.6 L138.9,250.2" fill="none" stroke="#111" stroke-width="1.35"/>
<text x="107.50" y="249.00" font-size="7.6" text-anchor="middle" fill="#111" stroke="#111" stroke-width="0.25">***</text>
<line x1="261.40" y1="297.86" x2="324.20" y2="273.03" stroke="#000" stroke-width="1.25"/>
<line x1="261.40" y1="298.75" x2="324.20" y2="254.40" stroke="#000" stroke-width="1.25"/>
<line x1="261.40" y1="297.27" x2="324.20" y2="255.56" stroke="#000" stroke-width="1.25"/>
<line x1="261.40" y1="294.02" x2="324.20" y2="256.73" stroke="#000" stroke-width="1.25"/>
<line x1="261.40" y1="293.73" x2="324.20" y2="257.89" stroke="#000" stroke-width="1.25"/>
<line x1="261.40" y1="293.43" x2="324.20" y2="259.05" stroke="#000" stroke-width="1.25"/>
<line x1="261.40" y1="289.30" x2="324.20" y2="260.22" stroke="#000" stroke-width="1.25"/>
<line x1="261.40" y1="295.50" x2="324.20" y2="261.38" stroke="#000" stroke-width="1.25"/>
<line x1="261.40" y1="324.60" x2="324.20" y2="272.30" stroke="#000" stroke-width="1.25"/>
<line x1="261.40" y1="292.55" x2="324.20" y2="263.71" stroke="#000" stroke-width="1.25"/>
<line x1="261.40" y1="298.16" x2="324.20" y2="264.87" stroke="#000" stroke-width="1.25"/>
<line x1="261.40" y1="296.68" x2="324.20" y2="266.04" stroke="#000" stroke-width="1.25"/>
<line x1="261.40" y1="289.89" x2="324.20" y2="267.20" stroke="#000" stroke-width="1.25"/>
<line x1="261.40" y1="290.18" x2="324.20" y2="262.55" stroke="#000" stroke-width="1.25"/>
<line x1="261.40" y1="293.14" x2="324.20" y2="249.90" stroke="#000" stroke-width="1.25"/>
<line x1="261.40" y1="292.84" x2="324.20" y2="273.75" stroke="#000" stroke-width="1.25"/>
<line x1="261.40" y1="282.80" x2="324.20" y2="306.80" stroke="#000" stroke-width="1.25"/>
<line x1="261.40" y1="301.70" x2="324.20" y2="275.21" stroke="#000" stroke-width="1.25"/>
<line x1="261.40" y1="291.07" x2="324.20" y2="275.93" stroke="#000" stroke-width="1.25"/>
<line x1="261.40" y1="294.91" x2="324.20" y2="276.66" stroke="#000" stroke-width="1.25"/>
<line x1="261.40" y1="294.32" x2="324.20" y2="277.39" stroke="#000" stroke-width="1.25"/>
<line x1="261.40" y1="291.95" x2="324.20" y2="278.11" stroke="#000" stroke-width="1.25"/>
<line x1="261.40" y1="297.57" x2="324.20" y2="278.84" stroke="#000" stroke-width="1.25"/>
<line x1="261.40" y1="296.98" x2="324.20" y2="279.56" stroke="#000" stroke-width="1.25"/>
<line x1="261.40" y1="294.61" x2="324.20" y2="280.29" stroke="#000" stroke-width="1.25"/>
<line x1="261.40" y1="290.77" x2="324.20" y2="281.02" stroke="#000" stroke-width="1.25"/>
<line x1="261.40" y1="308.60" x2="324.20" y2="281.74" stroke="#000" stroke-width="1.25"/>
<line x1="261.40" y1="301.11" x2="324.20" y2="282.47" stroke="#000" stroke-width="1.25"/>
<line x1="261.40" y1="301.41" x2="324.20" y2="283.20" stroke="#000" stroke-width="1.25"/>
<line x1="261.40" y1="295.80" x2="324.20" y2="283.92" stroke="#000" stroke-width="1.25"/>
<line x1="261.40" y1="299.64" x2="324.20" y2="284.65" stroke="#000" stroke-width="1.25"/>
<line x1="261.40" y1="295.20" x2="324.20" y2="285.38" stroke="#000" stroke-width="1.25"/>
<line x1="261.40" y1="300.82" x2="324.20" y2="286.10" stroke="#000" stroke-width="1.25"/>
<line x1="261.40" y1="296.09" x2="324.20" y2="286.83" stroke="#000" stroke-width="1.25"/>
<line x1="261.40" y1="292.25" x2="324.20" y2="287.56" stroke="#000" stroke-width="1.25"/>
<line x1="261.40" y1="291.36" x2="324.20" y2="288.28" stroke="#000" stroke-width="1.25"/>
<line x1="261.40" y1="289.59" x2="324.20" y2="289.01" stroke="#000" stroke-width="1.25"/>
<line x1="261.40" y1="302.00" x2="324.20" y2="289.74" stroke="#000" stroke-width="1.25"/>
<line x1="261.40" y1="299.34" x2="324.20" y2="290.46" stroke="#000" stroke-width="1.25"/>
<line x1="261.40" y1="289.00" x2="324.20" y2="291.19" stroke="#000" stroke-width="1.25"/>
<line x1="261.40" y1="291.66" x2="324.20" y2="291.91" stroke="#000" stroke-width="1.25"/>
<line x1="261.40" y1="296.39" x2="324.20" y2="292.64" stroke="#000" stroke-width="1.25"/>
<line x1="261.40" y1="299.93" x2="324.20" y2="293.37" stroke="#000" stroke-width="1.25"/>
<line x1="261.40" y1="300.23" x2="324.20" y2="294.09" stroke="#000" stroke-width="1.25"/>
<line x1="261.40" y1="299.05" x2="324.20" y2="294.82" stroke="#000" stroke-width="1.25"/>
<line x1="261.40" y1="298.45" x2="324.20" y2="295.55" stroke="#000" stroke-width="1.25"/>
<line x1="261.40" y1="300.52" x2="324.20" y2="296.27" stroke="#000" stroke-width="1.25"/>
<line x1="261.40" y1="290.48" x2="324.20" y2="297.00" stroke="#000" stroke-width="1.25"/>
<line x1="261.40" y1="313.70" x2="324.20" y2="274.48" stroke="#000" stroke-width="1.25"/>
<circle cx="261.40" cy="297.86" r="2.2" fill="#1abcdb"/>
<circle cx="261.40" cy="298.75" r="2.2" fill="#1abcdb"/>
<circle cx="261.40" cy="297.27" r="2.2" fill="#1abcdb"/>
<circle cx="261.40" cy="294.02" r="2.2" fill="#1abcdb"/>
<circle cx="261.40" cy="293.73" r="2.2" fill="#1abcdb"/>
<circle cx="261.40" cy="293.43" r="2.2" fill="#1abcdb"/>
<circle cx="261.40" cy="289.30" r="2.2" fill="#1abcdb"/>
<circle cx="261.40" cy="295.50" r="2.2" fill="#1abcdb"/>
<circle cx="261.40" cy="324.60" r="2.2" fill="#1abcdb"/>
<circle cx="261.40" cy="292.55" r="2.2" fill="#1abcdb"/>
<circle cx="261.40" cy="298.16" r="2.2" fill="#1abcdb"/>
<circle cx="261.40" cy="296.68" r="2.2" fill="#1abcdb"/>
<circle cx="261.40" cy="289.89" r="2.2" fill="#1abcdb"/>
<circle cx="261.40" cy="290.18" r="2.2" fill="#1abcdb"/>
<circle cx="261.40" cy="293.14" r="2.2" fill="#1abcdb"/>
<circle cx="261.40" cy="292.84" r="2.2" fill="#1abcdb"/>
<circle cx="261.40" cy="282.80" r="2.2" fill="#1abcdb"/>
<circle cx="261.40" cy="301.70" r="2.2" fill="#1abcdb"/>
<circle cx="261.40" cy="291.07" r="2.2" fill="#1abcdb"/>
<circle cx="261.40" cy="294.91" r="2.2" fill="#1abcdb"/>
<circle cx="261.40" cy="294.32" r="2.2" fill="#1abcdb"/>
<circle cx="261.40" cy="291.95" r="2.2" fill="#1abcdb"/>
<circle cx="261.40" cy="297.57" r="2.2" fill="#1abcdb"/>
<circle cx="261.40" cy="296.98" r="2.2" fill="#1abcdb"/>
<circle cx="261.40" cy="294.61" r="2.2" fill="#1abcdb"/>
<circle cx="261.40" cy="290.77" r="2.2" fill="#1abcdb"/>
<circle cx="261.40" cy="308.60" r="2.2" fill="#1abcdb"/>
<circle cx="261.40" cy="301.11" r="2.2" fill="#1abcdb"/>
<circle cx="261.40" cy="301.41" r="2.2" fill="#1abcdb"/>
<circle cx="261.40" cy="295.80" r="2.2" fill="#1abcdb"/>
<circle cx="261.40" cy="299.64" r="2.2" fill="#1abcdb"/>
<circle cx="261.40" cy="295.20" r="2.2" fill="#1abcdb"/>
<circle cx="261.40" cy="300.82" r="2.2" fill="#1abcdb"/>
<circle cx="261.40" cy="296.09" r="2.2" fill="#1abcdb"/>
<circle cx="261.40" cy="292.25" r="2.2" fill="#1abcdb"/>
<circle cx="261.40" cy="291.36" r="2.2" fill="#1abcdb"/>
<circle cx="261.40" cy="289.59" r="2.2" fill="#1abcdb"/>
<circle cx="261.40" cy="302.00" r="2.2" fill="#1abcdb"/>
<circle cx="261.40" cy="299.34" r="2.2" fill="#1abcdb"/>
<circle cx="261.40" cy="289.00" r="2.2" fill="#1abcdb"/>
<circle cx="261.40" cy="291.66" r="2.2" fill="#1abcdb"/>
<circle cx="261.40" cy="296.39" r="2.2" fill="#1abcdb"/>
<circle cx="261.40" cy="299.93" r="2.2" fill="#1abcdb"/>
<circle cx="261.40" cy="300.23" r="2.2" fill="#1abcdb"/>
<circle cx="261.40" cy="299.05" r="2.2" fill="#1abcdb"/>
<circle cx="261.40" cy="298.45" r="2.2" fill="#1abcdb"/>
<circle cx="261.40" cy="300.52" r="2.2" fill="#1abcdb"/>
<circle cx="261.40" cy="290.48" r="2.2" fill="#1abcdb"/>
<circle cx="261.40" cy="313.70" r="2.2" fill="#1abcdb"/>
<circle cx="324.20" cy="273.03" r="2.2" fill="#f5422c"/>
<circle cx="324.20" cy="254.40" r="2.2" fill="#f5422c"/>
<circle cx="324.20" cy="255.56" r="2.2" fill="#f5422c"/>
<circle cx="324.20" cy="256.73" r="2.2" fill="#f5422c"/>
<circle cx="324.20" cy="257.89" r="2.2" fill="#f5422c"/>
<circle cx="324.20" cy="259.05" r="2.2" fill="#f5422c"/>
<circle cx="324.20" cy="260.22" r="2.2" fill="#f5422c"/>
<circle cx="324.20" cy="261.38" r="2.2" fill="#f5422c"/>
<circle cx="324.20" cy="272.30" r="2.2" fill="#f5422c"/>
<circle cx="324.20" cy="263.71" r="2.2" fill="#f5422c"/>
<circle cx="324.20" cy="264.87" r="2.2" fill="#f5422c"/>
<circle cx="324.20" cy="266.04" r="2.2" fill="#f5422c"/>
<circle cx="324.20" cy="267.20" r="2.2" fill="#f5422c"/>
<circle cx="324.20" cy="262.55" r="2.2" fill="#f5422c"/>
<circle cx="324.20" cy="249.90" r="2.2" fill="#f5422c"/>
<circle cx="324.20" cy="273.75" r="2.2" fill="#f5422c"/>
<circle cx="324.20" cy="306.80" r="2.2" fill="#f5422c"/>
<circle cx="324.20" cy="275.21" r="2.2" fill="#f5422c"/>
<circle cx="324.20" cy="275.93" r="2.2" fill="#f5422c"/>
<circle cx="324.20" cy="276.66" r="2.2" fill="#f5422c"/>
<circle cx="324.20" cy="277.39" r="2.2" fill="#f5422c"/>
<circle cx="324.20" cy="278.11" r="2.2" fill="#f5422c"/>
<circle cx="324.20" cy="278.84" r="2.2" fill="#f5422c"/>
<circle cx="324.20" cy="279.56" r="2.2" fill="#f5422c"/>
<circle cx="324.20" cy="280.29" r="2.2" fill="#f5422c"/>
<circle cx="324.20" cy="281.02" r="2.2" fill="#f5422c"/>
<circle cx="324.20" cy="281.74" r="2.2" fill="#f5422c"/>
<circle cx="324.20" cy="282.47" r="2.2" fill="#f5422c"/>
<circle cx="324.20" cy="283.20" r="2.2" fill="#f5422c"/>
<circle cx="324.20" cy="283.92" r="2.2" fill="#f5422c"/>
<circle cx="324.20" cy="284.65" r="2.2" fill="#f5422c"/>
<circle cx="324.20" cy="285.38" r="2.2" fill="#f5422c"/>
<circle cx="324.20" cy="286.10" r="2.2" fill="#f5422c"/>
<circle cx="324.20" cy="286.83" r="2.2" fill="#f5422c"/>
<circle cx="324.20" cy="287.56" r="2.2" fill="#f5422c"/>
<circle cx="324.20" cy="288.28" r="2.2" fill="#f5422c"/>
<circle cx="324.20" cy="289.01" r="2.2" fill="#f5422c"/>
<circle cx="324.20" cy="289.74" r="2.2" fill="#f5422c"/>
<circle cx="324.20" cy="290.46" r="2.2" fill="#f5422c"/>
<circle cx="324.20" cy="291.19" r="2.2" fill="#f5422c"/>
<circle cx="324.20" cy="291.91" r="2.2" fill="#f5422c"/>
<circle cx="324.20" cy="292.64" r="2.2" fill="#f5422c"/>
<circle cx="324.20" cy="293.37" r="2.2" fill="#f5422c"/>
<circle cx="324.20" cy="294.09" r="2.2" fill="#f5422c"/>
<circle cx="324.20" cy="294.82" r="2.2" fill="#f5422c"/>
<circle cx="324.20" cy="295.55" r="2.2" fill="#f5422c"/>
<circle cx="324.20" cy="296.27" r="2.2" fill="#f5422c"/>
<circle cx="324.20" cy="297.00" r="2.2" fill="#f5422c"/>
<circle cx="324.20" cy="274.48" r="2.2" fill="#f5422c"/>
<path d="M261.4,250.0 L261.4,248.4 L324.4,248.4 L324.4,250.0" fill="none" stroke="#111" stroke-width="1.35"/>
<text x="292.90" y="248.80" font-size="7.6" text-anchor="middle" fill="#111" stroke="#111" stroke-width="0.25">***</text>
<line x1="445.20" y1="266.60" x2="507.80" y2="236.20" stroke="#000" stroke-width="1.2"/>
<line x1="445.20" y1="267.70" x2="507.80" y2="270.80" stroke="#000" stroke-width="1.2"/>
<line x1="445.20" y1="272.10" x2="507.80" y2="256.90" stroke="#000" stroke-width="1.2"/>
<line x1="445.20" y1="274.30" x2="507.80" y2="243.50" stroke="#000" stroke-width="1.2"/>
<line x1="445.20" y1="277.20" x2="507.80" y2="252.30" stroke="#000" stroke-width="1.2"/>
<line x1="445.20" y1="280.40" x2="507.80" y2="261.00" stroke="#000" stroke-width="1.2"/>
<line x1="445.20" y1="285.10" x2="507.80" y2="259.10" stroke="#000" stroke-width="1.2"/>
<line x1="445.20" y1="298.80" x2="507.80" y2="245.10" stroke="#000" stroke-width="1.2"/>
<circle cx="445.20" cy="266.60" r="2.4" fill="#1abcdb"/>
<circle cx="445.20" cy="267.70" r="2.4" fill="#1abcdb"/>
<circle cx="445.20" cy="272.10" r="2.4" fill="#1abcdb"/>
<circle cx="445.20" cy="274.30" r="2.4" fill="#1abcdb"/>
<circle cx="445.20" cy="277.20" r="2.4" fill="#1abcdb"/>
<circle cx="445.20" cy="280.40" r="2.4" fill="#1abcdb"/>
<circle cx="445.20" cy="285.10" r="2.4" fill="#1abcdb"/>
<circle cx="445.20" cy="298.80" r="2.4" fill="#1abcdb"/>
<circle cx="507.80" cy="236.20" r="2.4" fill="#f5422c"/>
<circle cx="507.80" cy="270.80" r="2.4" fill="#f5422c"/>
<circle cx="507.80" cy="256.90" r="2.4" fill="#f5422c"/>
<circle cx="507.80" cy="243.50" r="2.4" fill="#f5422c"/>
<circle cx="507.80" cy="252.30" r="2.4" fill="#f5422c"/>
<circle cx="507.80" cy="261.00" r="2.4" fill="#f5422c"/>
<circle cx="507.80" cy="259.10" r="2.4" fill="#f5422c"/>
<circle cx="507.80" cy="245.10" r="2.4" fill="#f5422c"/>
<path d="M445.2,235.7 L445.2,234.1 L507.8,234.1 L507.8,235.7" fill="none" stroke="#111" stroke-width="1.35"/>
<text x="476.50" y="234.50" font-size="7.6" text-anchor="middle" fill="#111" stroke="#111" stroke-width="0.25">**</text>
</svg>
</body></html>
